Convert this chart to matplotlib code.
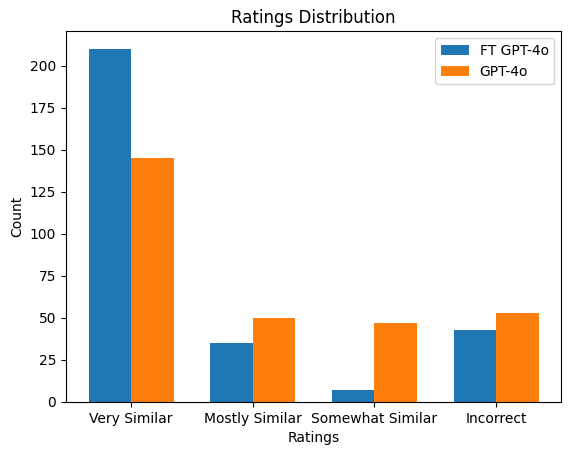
import numpy as np
import matplotlib.pyplot as plt

# Ratings data
categories = ['Very Similar', 'Mostly Similar', 'Somewhat Similar', 'Incorrect']
ft_gpt4o = [210, 35, 7, 43]
gpt4o = [145, 50, 47, 53]

x = np.arange(len(categories))
width = 0.35

fig, ax = plt.subplots(figsize=(5.71, 4.55), dpi=100)
fig.subplots_adjust(left=0.1156, right=0.983, top=0.931, bottom=0.1165)

ax.bar(x - width / 2, ft_gpt4o, width, label='FT GPT-4o')
ax.bar(x + width / 2, gpt4o, width, label='GPT-4o')

ax.set_xlabel('Ratings')
ax.set_ylabel('Count')
ax.set_title('Ratings Distribution')
ax.set_xticks(x)
ax.set_xticklabels(categories)
ax.legend()

plt.savefig('out.png')
